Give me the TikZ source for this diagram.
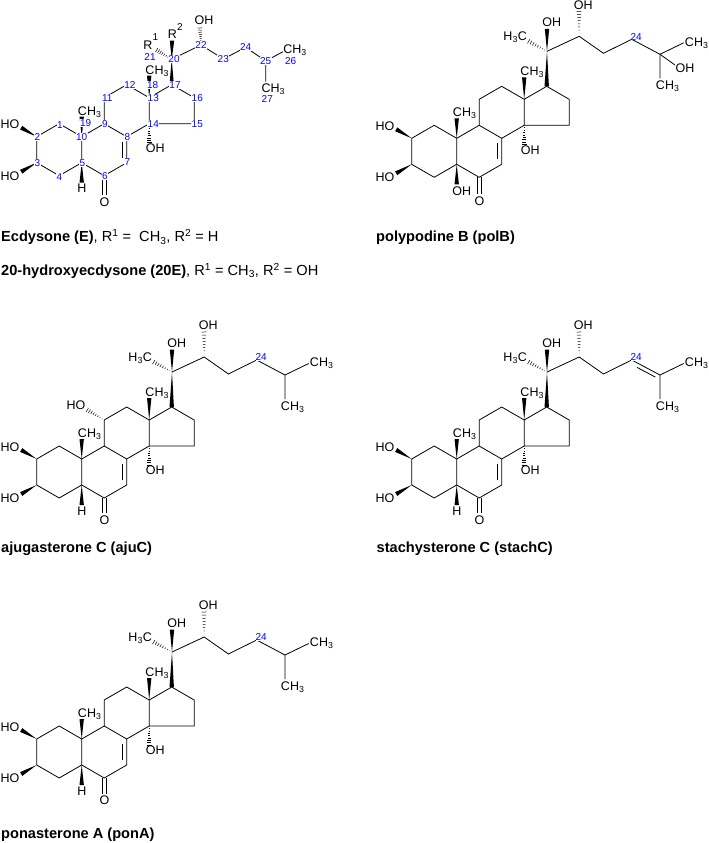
\documentclass[tikz,border=0pt]{standalone}
\usepackage{fontspec}
\setmainfont{Liberation Sans}
\usetikzlibrary{calc}
\tikzset{
	bond/.style={line width=0.8pt, black},
	atom/.style={font=\fontsize{12.5}{14}\selectfont, inner sep=0pt},
	numlabel/.style={font=\fontsize{10}{11}\selectfont, text=blue, fill=white, inner sep=0.5pt},
	plainnum/.style={font=\fontsize{10}{11}\selectfont, text=blue, inner sep=0pt},
	captiontext/.style={font=\fontsize{14.6}{16}\selectfont, anchor=west, inner sep=0pt}
}
\newcommand{\wedgebond}[2]{\fill[black] (#1) -- ($(#2)!2.2pt!90:(#1)$) -- ($(#2)!2.2pt!-90:(#1)$) -- cycle;}
\newcommand{\hashbond}[2]{\foreach \s in {1,...,8}{
	\pgfmathsetmacro\w{\s/8*2.4}
	\coordinate (hb) at ($(#1)!\s/8!(#2)$);
	\draw[black, line width=0.5pt] ($(hb)!\w pt!90:(#1)$) -- ($(hb)!\w pt!-90:(#1)$);}}
% rings A-D with the groups that all five have
\newcommand{\steroidcore}[3]{
	\begin{scope}[shift={(#2)}]
		\foreach \n/\x/\y in {1/-22.5/-13, 2/-45/0, 3/-45/26, 4/-22.5/39, 5/0/26, 6/22.5/39, 7/45/26, 8/45/0, 9/22.5/-13, 10/0/0, 11/22.5/-39, 12/45/-52, 13/67.5/-39, 14/67.5/-13, 15/112.5/-13, 16/112.5/-39, 17/90/-52, ho2/-60.5/-9, ho3/-60.5/35, m10/0/-20, m13/67.5/-61, oe/22.5/#3-7, hy14/67.5/6, hb/0/46, h/0.3/51.7}
			\coordinate (#1-\n) at (\x,\y);
		\node[atom] (#1-hol2) at (-71.7,-12.3) {HO};
		\node[atom] (#1-hol3) at (-71.7,39) {HO};
		\node[atom] (#1-cl10) at (8,-25) {CH\textsubscript{3}};
		\node[atom] (#1-cl13) at (75.5,-66) {CH\textsubscript{3}};
		\node[atom] (#1-ol6) at (22.8,#3) {O};
		\node[atom] (#1-ol14) at (73.5,11.5) {OH};
	\end{scope}
	\draw[bond] (#1-10) -- (#1-1) -- (#1-2) -- (#1-3) -- (#1-4) -- (#1-5) -- (#1-10) -- (#1-9) -- (#1-8) -- (#1-7) -- (#1-6) -- (#1-5);
	\draw[bond] (#1-9) -- (#1-11) -- (#1-12) -- (#1-13) -- (#1-14) -- (#1-8);
	\draw[bond] (#1-13) -- (#1-17) -- (#1-16) -- (#1-15) -- (#1-14);
	\draw[bond] ($(#1-8)+(-4,5)$) -- ($(#1-7)+(-4,-5)$);
	\draw[bond] ($(#1-6)+(-1.7,0)$) -- ($(#1-oe)+(-1.7,0)$) ($(#1-6)+(1.7,0)$) -- ($(#1-oe)+(1.7,0)$);
	\wedgebond{#1-2}{#1-ho2}
	\wedgebond{#1-3}{#1-ho3}
	\wedgebond{#1-10}{#1-m10}
	\wedgebond{#1-13}{#1-m13}
	\hashbond{#1-14}{#1-hy14}
}
% side chain of the four unnumbered ones
\newcommand{\sidechain}[2]{
	\begin{scope}[shift={(#2)}]
		\foreach \n/\x/\y in {20/90.3/-87, 22/122.5/-102, 23/146.7/-85, 24/175/-99, 25/203.3/-84, 26/227/-95.5, 27/203.3/-60, o20/90.3/-109.5, m20/72/-97, o22/122.3/-127}
			\coordinate (#1-\n) at (\x,\y);
		\node[atom] (#1-ol20) at (95,-115.7) {OH};
		\node[atom] (#1-cl20) at (58.5,-101) {H\textsubscript{3}C};
		\node[atom] (#1-ol22) at (126.6,-133.5) {OH};
		\node[atom] (#1-cl26) at (240,-95.5) {CH\textsubscript{3}};
		\node[atom] (#1-cl27) at (211,-52) {CH\textsubscript{3}};
	\end{scope}
	\draw[bond] (#1-20) -- (#1-22) -- (#1-23) -- (#1-24) -- (#1-25) -- (#1-26) (#1-25) -- (#1-27);
	\wedgebond{#1-20}{#1-17}
	\wedgebond{#1-20}{#1-o20}
	\hashbond{#1-20}{#1-m20}
	\hashbond{#1-22}{#1-o22}
	\node[plainnum, fill=white] (#1-num24) at ($(#2)+(179.5,-101.5)$) {24};
}
\begin{document}
\begin{tikzpicture}[x=1pt, y=-1pt]
	\useasboundingbox (0,0) rectangle (709,843);
	% numbered structure
	\steroidcore{e}{81.7,136.7}{65}
	\wedgebond{e-5}{e-hb}
	\node[atom] (e-hl) at (e-h) {H};
	\foreach \n/\x/\y in {20/171.7/59.3, 22/201/45, 23/223.3/59, 24/245.7/47.3, 25/265.7/61, 26/283/51.7, 27/265.7/81.7, r1/156.7/50, r2/172/40.7, oh/200/28}
		\coordinate (e-\n) at (\x,\y);
	\draw[bond] (e-20) -- (e-22) -- (e-23) -- (e-24) -- (e-25) -- (e-26) (e-25) -- (e-27);
	\wedgebond{e-20}{e-17}
	\wedgebond{e-20}{e-r2}
	\hashbond{e-20}{e-r1}
	\hashbond{e-22}{e-oh}
	\node[atom] (e-rl1) at (148,45) {R};
	\node[atom, anchor=west] (e-sup1) at (152.5,37.5) {\fontsize{10}{11}\selectfont 1};
	\node[atom] (e-rl2) at (172.5,34) {R};
	\node[atom, anchor=west] (e-sup2) at (177,27) {\fontsize{10}{11}\selectfont 2};
	\node[atom] (e-ol22) at (204,20) {OH};
	\node[atom] (e-cl26) at (295,50) {CH\textsubscript{3}};
	\node[atom] (e-cl27) at (273.3,89.3) {CH\textsubscript{3}};
	\foreach \n/\x/\y in {1/60/125, 2/37.3/136.7, 3/37.3/163.3, 4/59.3/176.7, 5/82.3/163.3, 6/105/175.7, 7/127.3/162.3, 8/127.3/136.7, 9/105/124, 10/81.7/137.3, 11/107.3/98.3, 12/130/85, 13/153.3/97.7, 14/153.3/124, 15/197.3/124, 16/197.3/97.7, 17/175/85, 18/152.7/85, 19/85.7/122.7, 20/174/59.3, 21/150/57.3, 22/201/45, 23/223.3/59, 24/245.7/47.3, 25/265.7/61, 26/290.7/60.7, 27/267.3/99}
		\node[numlabel] (e-num\n) at (\x,\y) {\n};
	\node[captiontext] (cap-e) at (1,237.3) {\textbf{Ecdysone (E)}, R\textsuperscript{1} =\ \ CH\textsubscript{3}, R\textsuperscript{2} = H};
	\node[captiontext] (cap-h) at (1,270.7) {\textbf{20-hydroxyecdysone (20E)}, R\textsuperscript{1} = CH\textsubscript{3}, R\textsuperscript{2} = OH};
	% polypodine
	\steroidcore{p}{456.7,138.3}{62.7}
	\sidechain{p}{456.7,138.3}
	\wedgebond{p-5}{p-hb}
	\node[atom] (p-ol5) at (461.7,190.7) {OH};
	\coordinate (p-o25) at (675,65);
	\draw[bond] (p-25) -- (p-o25);
	\node[atom] (p-ol25) at (685,68.3) {OH};
	\node[captiontext] (cap-p) at (376,237.3) {\textbf{polypodine B (polB)}};
	% ajugasterone
	\steroidcore{a}{81.7,459}{61}
	\sidechain{a}{81.7,459}
	\wedgebond{a-5}{a-hb}
	\node[atom] (a-hl) at (a-h) {H};
	\coordinate (a-o11) at (87.3,410);
	\hashbond{a-11}{a-o11}
	\node[atom] (a-ol11) at (76,405) {HO};
	\node[captiontext] (cap-a) at (1,549) {\textbf{ajugasterone C (ajuC)}};
	% stachysterone
	\steroidcore{s}{456.7,459}{61}
	\sidechain{s}{456.7,459}
	\wedgebond{s-5}{s-hb}
	\node[atom] (s-hl) at (s-h) {H};
	\draw[bond] ($(s-24)!0.25!(s-25)+(-1.8,3.6)$) -- ($(s-24)!0.9!(s-25)+(-1.8,3.6)$);
	\node[captiontext] (cap-s) at (376.5,549) {\textbf{stachysterone C (stachC)}};
	% ponasterone
	\steroidcore{n}{81.7,739}{61.5}
	\sidechain{n}{81.7,739}
	\wedgebond{n-5}{n-hb}
	\node[atom] (n-hl) at (n-h) {H};
	\node[captiontext] (cap-n) at (1,835) {\textbf{ponasterone A (ponA)}};
\end{tikzpicture}
\end{document}
